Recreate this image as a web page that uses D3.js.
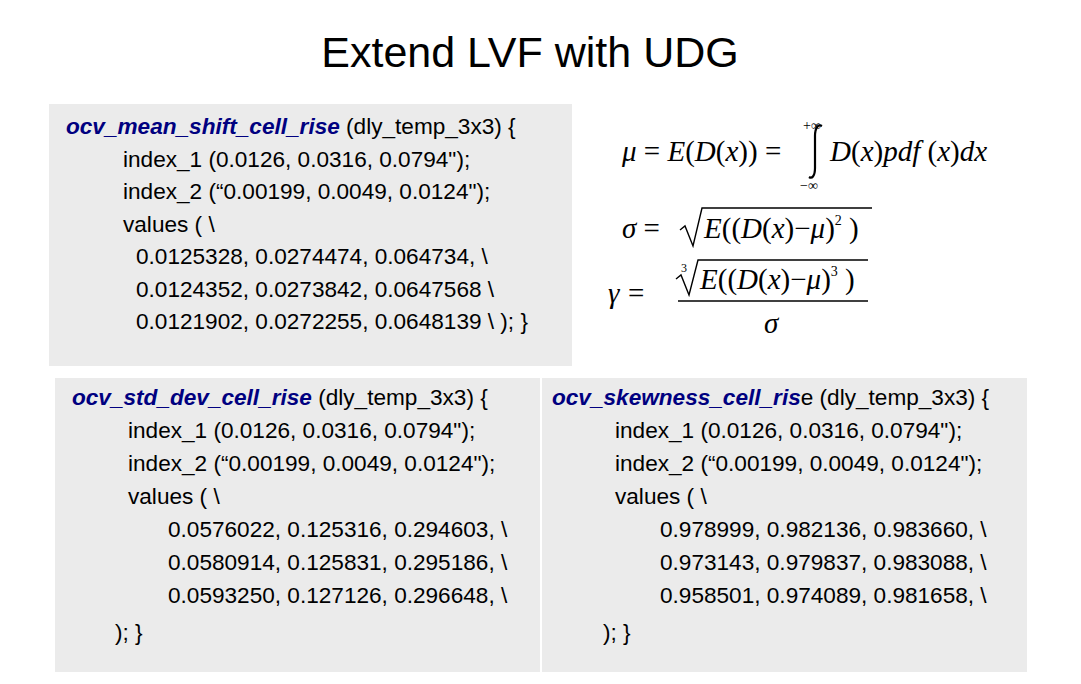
<!DOCTYPE html>
<html><head><meta charset="utf-8">
<script src="https://cdn.jsdelivr.net/npm/d3@7"></script>
<style>body{margin:0;background:#fff}</style></head>
<body><svg id="s" width="1081" height="684"></svg>
<script>
const title = "Extend LVF with UDG";
const names = ["ocv_mean_shift_cell_rise","ocv_std_dev_cell_rise","ocv_skewness_cell_rise"];
const index1 = "index_1 (0.0126, 0.0316, 0.0794\");";
const index2 = "index_2 (\u201C0.00199, 0.0049, 0.0124\");";
const meanVals = [["0.0125328","0.0274474","0.064734"],["0.0124352","0.0273842","0.0647568"],["0.0121902","0.0272255","0.0648139"]];
const stdVals = [["0.0576022","0.125316","0.294603"],["0.0580914","0.125831","0.295186"],["0.0593250","0.127126","0.296648"]];
const skewVals = [["0.978999","0.982136","0.983660"],["0.973143","0.979837","0.983088"],["0.958501","0.974089","0.981658"]];

const svg = d3.select("#s");
const F = "Liberation Sans, Arial, sans-serif";
const FS = 22.6;
svg.append("text").attr("x",530).attr("y",67).attr("text-anchor","middle")
  .attr("font-family",F).attr("font-size",43).text(title);

const boxes = [
 {x:49,y:104,w:523,h:262,name:names[0],hx:66,ix:123,vx:136,cx:null,y0:134,step:32.5,vals:meanVals},
 {x:55,y:378,w:485,h:294,name:names[1],hx:72,ix:128,vx:168,cx:115,y0:405,step:33,vals:stdVals},
 {x:542,y:378,w:485,h:294,name:names[2],hx:552,ix:615,vx:660,cx:603,y0:405,step:33,vals:skewVals}
];
boxes.forEach((b,bi)=>{
  svg.append("rect").attr("x",b.x).attr("y",b.y).attr("width",b.w).attr("height",b.h).attr("fill","#ebebeb");
  const t = (x,y)=>svg.append("text").attr("x",x).attr("y",y).attr("font-family",F).attr("font-size",FS).attr("fill","#000");
  const h = t(b.hx,b.y0);
  let nm = b.name, rest="";
  if(bi===2){nm="ocv_skewness_cell_ris"; rest="e";}
  h.append("tspan").attr("fill","#000080").attr("font-weight","bold").attr("font-style","italic").text(nm);
  h.append("tspan").text(rest+" (dly_temp_3x3) {");
  t(b.ix,b.y0+b.step).text(index1);
  t(b.ix,b.y0+2*b.step).text(index2);
  t(b.ix,b.y0+3*b.step).text("values ( \\");
  b.vals.forEach((r,i)=>{
    let s = r.join(", ");
    if(bi===0) s += (i===0? ", \\" : i===1 ? " \\" : " \\ ); }");
    else s += ", \\";
    t(b.vx,b.y0+(4+i)*b.step).text(s);
  });
  if(b.cx) t(b.cx,b.y0+7*b.step+4).text("); }");
});

// formulas
const S = "Liberation Serif, Times New Roman, serif";
const FZ = 29;
const m = (x,y,size,txt,it)=>svg.append("text").attr("x",x).attr("y",y).attr("font-family",S).attr("font-size",size).attr("font-style",it?"italic":"normal").text(txt);
const parts = (el,arr)=>arr.forEach(p=>el.append("tspan").attr("font-style",p[1]?"italic":"normal").text(p[0]));
// mu
parts(m(622,161,FZ,"",false),[["\u03BC",1],[" = ",0],["E",1],["(",0],["D",1],["(",0],["x",1],[")) = ",0]]);
svg.append("path").attr("d","M822,126 C818,124 815,128 815,136 L815,168 C815,176 812,179 809,177")
  .attr("fill","none").attr("stroke","#000").attr("stroke-width",2.2);
m(803,130,14,"+\u221E",false);
m(800,190,14,"\u2212\u221E",false);
parts(m(830,161,FZ,"",false),[["D",1],["(",0],["x",1],[")",0],["pdf",1],[" (",0],["x",1],[")",0],["dx",1]]);
// sigma
parts(m(622,238,FZ,"",false),[["\u03C3",1],[" = ",0]]);
svg.append("path").attr("d","M680,230 L685,226 L693,246 L702,208 L872,208").attr("fill","none").attr("stroke","#000").attr("stroke-width",1.4);
const f2b = m(704,238,FZ,"",false);
parts(f2b,[["E",1],["((",0],["D",1],["(",0],["x",1],[")\u2212",0],["\u03BC",1],[")",0]]);
f2b.append("tspan").attr("font-size",14).attr("dy",-13).text("2");
f2b.append("tspan").attr("dy",13).text(" )");
// gamma
m(608,303,FZ,"\u03B3",true); m(628,303,FZ," =",false);
svg.append("path").attr("d","M676,279 L681,275 L689,295 L698,260 L868,260").attr("fill","none").attr("stroke","#000").attr("stroke-width",1.4);
m(681,272,12,"3",false);
const f3 = m(700,289,FZ,"",false);
parts(f3,[["E",1],["((",0],["D",1],["(",0],["x",1],[")\u2212",0],["\u03BC",1],[")",0]]);
f3.append("tspan").attr("font-size",14).attr("dy",-13).text("3");
f3.append("tspan").attr("dy",13).text(" )");
svg.append("line").attr("x1",678).attr("x2",868).attr("y1",301).attr("y2",301).attr("stroke","#000").attr("stroke-width",1.4);
m(764,333,FZ,"\u03C3",true);
</script></body></html>
